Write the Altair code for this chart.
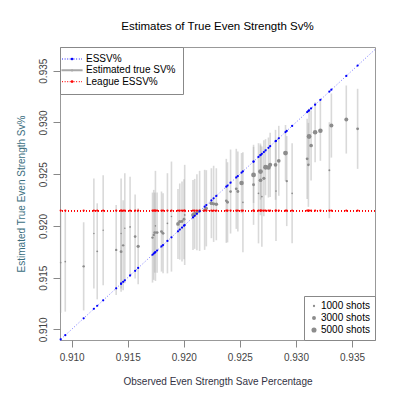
import altair as alt
import pandas as pd

# ---- data ----
obs = [0.90902, 0.90943, 0.91107, 0.91198, 0.91228, 0.91281, 0.91397, 0.91441, 0.91441, 0.91459,
       0.91474, 0.91521, 0.91566, 0.91593, 0.91721, 0.91732, 0.91741, 0.91747, 0.91762, 0.91801,
       0.91815, 0.91854, 0.91890, 0.91948, 0.91964, 0.91984, 0.92002, 0.92008, 0.92082, 0.92097,
       0.92117, 0.92141, 0.92186, 0.92201, 0.92246, 0.92266, 0.92290, 0.92379, 0.92390, 0.92417,
       0.92468, 0.92482, 0.92515, 0.92527, 0.92622, 0.92622, 0.92666, 0.92684, 0.92684, 0.92696,
       0.92714, 0.92729, 0.92755, 0.92770, 0.92818, 0.92822, 0.92847, 0.92907, 0.92918, 0.92966,
       0.93100, 0.93111, 0.93117, 0.93135, 0.93171, 0.93218, 0.93298, 0.93316, 0.93449, 0.93550]
est = [0.91645, 0.91655, 0.91609, 0.91926, 0.91754, 0.91957, 0.91768, 0.91926, 0.91751, 0.91812,
       0.91977, 0.91990, 0.91897, 0.91803, 0.91887, 0.91913, 0.91935, 0.92000, 0.91935, 0.91945,
       0.91928, 0.92025, 0.92090, 0.92019, 0.92042, 0.92042, 0.92064, 0.92106, 0.92106, 0.92116,
       0.92132, 0.92145, 0.92155, 0.92170, 0.92219, 0.92213, 0.92209, 0.92242, 0.92228, 0.92332,
       0.92358, 0.92332, 0.92414, 0.92228, 0.92493, 0.92397, 0.92315, 0.92525, 0.92441, 0.92283,
       0.92460, 0.92567, 0.92564, 0.92590, 0.92590, 0.92337, 0.92629, 0.92704, 0.92433, 0.92315,
       0.92648, 0.92590, 0.92864, 0.92777, 0.92905, 0.92919, 0.92538, 0.92970, 0.93028, 0.92938]
lo = [0.91161, 0.91171, 0.91183, 0.91394, 0.91290, 0.91425, 0.91333, 0.91394, 0.91364, 0.91377,
      0.91445, 0.91506, 0.91491, 0.91435, 0.91452, 0.91478, 0.91548, 0.91468, 0.91548, 0.91558,
      0.91541, 0.91541, 0.91558, 0.91681, 0.91674, 0.91655, 0.91677, 0.91622, 0.91768, 0.91778,
      0.91764, 0.91758, 0.91768, 0.91802, 0.91881, 0.91845, 0.91861, 0.91836, 0.91841, 0.91926,
      0.91971, 0.91945, 0.92124, 0.91744, 0.92222, 0.92010, 0.91831, 0.92254, 0.92103, 0.91799,
      0.92092, 0.92296, 0.92274, 0.92280, 0.92252, 0.91853, 0.92291, 0.92433, 0.91998, 0.91831,
      0.92261, 0.92184, 0.92593, 0.92439, 0.92615, 0.92629, 0.92074, 0.92660, 0.92699, 0.92551]
hi = [0.92129, 0.92139, 0.92035, 0.92458, 0.92218, 0.92489, 0.92203, 0.92458, 0.92138, 0.92247,
      0.92509, 0.92474, 0.92303, 0.92171, 0.92322, 0.92348, 0.92322, 0.92532, 0.92322, 0.92332,
      0.92315, 0.92509, 0.92622, 0.92357, 0.92410, 0.92429, 0.92451, 0.92590, 0.92444, 0.92454,
      0.92500, 0.92532, 0.92542, 0.92538, 0.92557, 0.92581, 0.92557, 0.92648, 0.92615, 0.92738,
      0.92745, 0.92719, 0.92704, 0.92712, 0.92764, 0.92784, 0.92799, 0.92796, 0.92779, 0.92767,
      0.92828, 0.92838, 0.92854, 0.92900, 0.92928, 0.92821, 0.92967, 0.92975, 0.92868, 0.92799,
      0.93035, 0.92996, 0.93135, 0.93115, 0.93195, 0.93209, 0.93002, 0.93280, 0.93357, 0.93325]
shots = [550, 550, 1100, 450, 700, 450, 1100, 450, 1600, 1100,
         450, 550, 1400, 2000, 1100, 1100, 1600, 450, 1600, 1600,
         1600, 550, 450, 2600, 2000, 1600, 1600, 550, 2600, 2600,
         2000, 1600, 1600, 2000, 2600, 2000, 2400, 1400, 1600, 1400,
         1600, 1600, 4000, 550, 4500, 1600, 550, 4500, 2600, 550,
         2000, 4500, 4000, 3200, 2600, 550, 2600, 4500, 1100, 550,
         1600, 1400, 4500, 2600, 4000, 4000, 700, 3200, 3000, 1600]
league = 0.92148

series_names = ["ESSV%", "Estimated true SV%", "League ESSV%"]
series_colors = ["#0000FF", "#A8A8A8", "#FF0000"]
tick_values = [0.910, 0.915, 0.920, 0.925, 0.930, 0.935]
shot_legend_values = [1000, 3000, 5000]
x_domain = [0.90896, 0.93705]
y_domain = [0.90897, 0.93729]
diag_ends = [0.90, 0.94]

df = pd.DataFrame({"obs": obs, "est": est, "lo": lo, "hi": hi, "shots": shots})
diag = pd.DataFrame({"v": diag_ends})
leg_df = pd.DataFrame({"series": series_names})

FONT = "Liberation Sans"
XT = "Observed Even Strength Save Percentage"
YT = "Estimated True Even Strength Sv%"

xs = alt.Scale(domain=x_domain, nice=False, zero=False)
ys = alt.Scale(domain=y_domain, nice=False, zero=False)

xaxis = alt.Axis(values=tick_values, format=".3f", grid=False, domain=False,
                 tickColor="#888888", tickSize=7, labelColor="#444444", labelFontSize=10,
                 labelFont=FONT, labelPadding=5, titleFont=FONT, titleFontSize=10,
                 titleFontWeight="normal", titleColor="#333344", titlePadding=14)
yaxis = alt.Axis(values=tick_values, format=".3f", grid=False, domain=False,
                 tickColor="#888888", tickSize=7, labelColor="#444444", labelFontSize=10,
                 labelFont=FONT, labelAngle=270, labelAlign="center", labelBaseline="bottom",
                 labelPadding=5, titleFont=FONT, titleFontSize=10, titleFontWeight="normal",
                 titleColor="#3A6E7E", titlePadding=12)


def X(field):
    return alt.X(field, type="quantitative", scale=xs, axis=xaxis, title=XT)


def Y(field):
    return alt.Y(field, type="quantitative", scale=ys, axis=yaxis, title=YT)


# legend symbol paths (line sample + dot)
dot = "M0.93,0A0.22,0.22,0,1,0,1.37,0A0.22,0.22,0,1,0,0.93,0Z"
dotted = ("M-1.7,0L-1.45,0M-0.95,0L-0.7,0M-0.2,0L0.05,0M0.5,0L0.7,0"
          "M1.6,0L1.85,0M2.35,0L2.6,0M3.1,0L3.35,0M3.8,0L4.0,0")
solid = "M-1.7,-0.12L4.0,-0.12L4.0,0.12L-1.7,0.12Z"
series_paths = [dotted + dot, solid + dot, dotted + dot]

series_legend = alt.Legend(title=None, orient="top-left", offset=0, padding=7,
                           strokeColor="#888888", fillColor="white", symbolSize=49,
                           symbolStrokeWidth=1.2, symbolOffset=-4, labelOffset=13,
                           labelFontSize=10, labelFont=FONT, labelColor="black",
                           rowPadding=1.3)
size_legend = alt.Legend(title=None, orient="bottom-right", offset=0, padding=5,
                         strokeColor="#888888", fillColor="white", values=shot_legend_values,
                         labelExpr="datum.value + ' shots'", labelFontSize=10, labelFont=FONT,
                         labelColor="black", labelOffset=2, rowPadding=2,
                         symbolFillColor="#555555", symbolStrokeWidth=0, symbolType="circle")

diag_line = alt.Chart(diag).mark_line(color="#0000FF", strokeDash=[1, 2], strokeWidth=1,
                                      opacity=0.55, clip=True).encode(x=X("v"), y=Y("v"))

league_rule = alt.Chart(df).mark_rule(color="#FF0000", strokeDash=[1, 2], strokeWidth=1,
                                      opacity=0.5).encode(
    y=alt.Y(datum=league, type="quantitative", scale=ys, axis=yaxis, title=YT))

bars = alt.Chart(df).mark_rule(color="#AAAAAA", opacity=0.45, strokeWidth=1.6).encode(
    x=X("obs"), y=Y("lo"), y2="hi")

grey_pts = alt.Chart(df).mark_circle(color="#8C8C8C", opacity=1).encode(
    x=X("obs"), y=Y("est"),
    size=alt.Size("shots:Q", scale=alt.Scale(domain=[0, 5000], range=[0, 26]),
                  legend=size_legend))

red_pts = alt.Chart(df).mark_circle(color="#FF0000", size=5, opacity=1).encode(
    x=X("obs"), y=alt.Y(datum=league, type="quantitative", scale=ys, axis=yaxis, title=YT))

blue_pts = alt.Chart(df).mark_circle(color="#0000FF", size=5, opacity=1).encode(
    x=X("obs"), y=Y("obs"))

legend_layer = alt.Chart(leg_df).transform_filter("false").mark_point(
    filled=False, opacity=1).encode(
    x=alt.X(datum=0.92, type="quantitative", scale=xs, axis=xaxis, title=XT),
    y=alt.Y(datum=0.92, type="quantitative", scale=ys, axis=yaxis, title=YT),
    color=alt.Color("series:N", scale=alt.Scale(domain=series_names, range=series_colors),
                    legend=series_legend),
    shape=alt.Shape("series:N", scale=alt.Scale(domain=series_names, range=series_paths),
                    legend=series_legend))

chart = alt.layer(diag_line, league_rule, bars, grey_pts, red_pts, blue_pts, legend_layer).properties(
    width=315, height=293,
    title=alt.TitleParams("Estimates of True Even Strength Sv%", fontSize=11.5,
                          fontWeight="normal", font=FONT, color="black", anchor="middle",
                          offset=14),
    autosize=alt.AutoSizeParams(type="none"),
    padding={"left": 52, "top": 39, "right": 17, "bottom": 52},
).configure_view(stroke="#999999", strokeWidth=1)

chart.save("out.html", embed_options={"renderer": "svg", "actions": False})
